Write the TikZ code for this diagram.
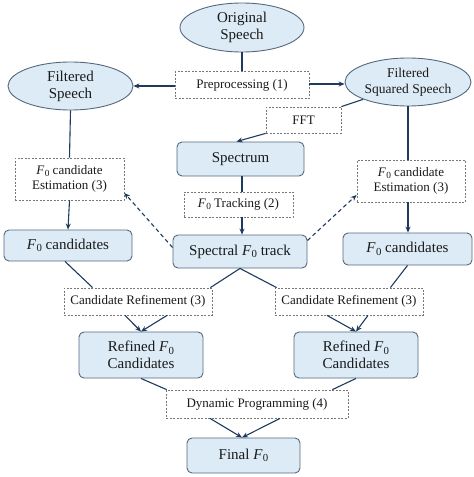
\documentclass[tikz,border=0pt]{standalone}
\usepackage{fontspec}
\setmainfont{Liberation Serif}
\usetikzlibrary{shapes.geometric,arrows.meta,calc}
\definecolor{fillc}{HTML}{DCEBF5}
\definecolor{bordc}{HTML}{55687D}
\definecolor{linec}{HTML}{1F3A5F}
\definecolor{dashc}{HTML}{777777}
\definecolor{textc}{HTML}{1A1A1A}
\newcommand\Fzero{\textit{F}\kern0.3pt\raisebox{-0.35ex}{\scalebox{0.72}{0}}}
\tikzset{
  ell/.style={ellipse, draw=bordc, fill=fillc, line width=0.9pt, inner sep=0pt,
    align=center, text=textc, font=\fontsize{15}{17}\selectfont},
  rbox/.style={rectangle, rounded corners=5pt, draw=bordc, fill=fillc, line width=0.9pt,
    inner sep=0pt, align=center, text=textc, font=\fontsize{15}{17}\selectfont},
  dbox/.style={rectangle, draw=dashc, fill=white, line width=0.8pt, dash pattern=on 2pt off 1.5pt,
    inner sep=0pt, align=center, text=textc, font=\fontsize{13}{15}\selectfont},
  conn/.style={draw=linec, line width=1.1pt},
  arr/.style={conn, -{Stealth[length=6pt,width=5pt]}},
  darr/.style={arr, dash pattern=on 4pt off 3pt},
}
\begin{document}
\begin{tikzpicture}[x=1pt,y=-1pt]
\useasboundingbox (0,0) rectangle (474,477);
% ellipses
\node[ell, minimum width=124pt, minimum height=49pt] (orig) at (242,27.5) {Original\\Speech};
\node[ell, minimum width=125pt, minimum height=48pt] (fs) at (70.5,86) {Filtered\\Speech};
\node[ell, minimum width=126pt, minimum height=48pt, font=\fontsize{13.5}{16}\selectfont] (fss) at (408,82) {Filtered\\Squared Speech};
% rounded boxes
\node[rbox, minimum width=127pt, minimum height=34pt] (spec) at (240.5,159) {Spectrum};
\node[rbox, minimum width=134pt, minimum height=33pt] (sp) at (240,251.5) {Spectral \Fzero{} track};
\node[rbox, minimum width=128pt, minimum height=31pt] (candL) at (68,245.5) {\Fzero{} candidates};
\node[rbox, minimum width=129pt, minimum height=32pt] (candR) at (407.5,249) {\Fzero{} candidates};
\node[rbox, minimum width=124pt, minimum height=46pt] (refL) at (141,355) {Refined \Fzero\\Candidates};
\node[rbox, minimum width=124pt, minimum height=46pt] (refR) at (356,355) {Refined \Fzero\\Candidates};
\node[rbox, minimum width=113pt, minimum height=35pt] (final) at (243.5,455.5) {Final \Fzero};
% dashed boxes
\node[dbox, minimum width=134pt, minimum height=27pt] (pre) at (242,85) {Preprocessing (1)};
\node[dbox, minimum width=75pt, minimum height=26pt] (fft) at (303.5,120) {FFT};
\node[dbox, minimum width=109pt, minimum height=42pt] (estL) at (69.5,179) {\Fzero{} candidate\\Estimation (3)};
\node[dbox, minimum width=108pt, minimum height=42pt] (estR) at (411,181) {\Fzero{} candidate\\Estimation (3)};
\node[dbox, minimum width=109pt, minimum height=25pt] (trk) at (238.5,204.5) {\Fzero{} Tracking (2)};
\node[dbox, minimum width=148pt, minimum height=27pt] (crL) at (138,301.5) {Candidate Refinement (3)};
\node[dbox, minimum width=148pt, minimum height=27pt] (crR) at (349,301.5) {Candidate Refinement (3)};
\node[dbox, minimum width=182pt, minimum height=28pt] (dp) at (257,404) {Dynamic Programming (4)};
% connectors
\draw[conn] (orig.south) -- (pre.north);
\draw[arr] ([yshift=-1pt]pre.west) -- ([yshift=-1pt]pre.west -| fs.east);
\draw[arr] ([yshift=1pt]pre.east) -- ([yshift=1pt]pre.east -| fss.west);
\draw[conn] (fss.south west) -- (fft.north east);
\draw[arr] (fft.south west) -- ([xshift=-4pt]spec.north);
\draw[conn] (fs.south) -- (estL.north);
\draw[arr] (estL.south) -- (candL.north);
\draw[conn] (fss.south) -- (fss.south |- estR.north);
\draw[arr] (fss.south |- estR.south) -- (fss.south |- candR.north);
\draw[conn] ([xshift=1.5pt]spec.south) -- ([xshift=1.5pt]spec.south |- trk.north);
\draw[arr] ([xshift=1.5pt]spec.south |- trk.south) -- ([xshift=1.5pt]spec.south |- sp.north);
\draw[darr] ([yshift=4pt]sp.west) -- ([yshift=-14pt]estL.east);
\draw[darr] ([yshift=11pt]sp.east) -- ([yshift=-14pt]estR.west);
\draw[conn] ([xshift=-3pt]candL.south) -- ([xshift=29pt]crL.north west);
\draw[conn] (sp.south) -- ([xshift=-2pt]crL.north east);
\draw[conn] (sp.south) -- ([xshift=2pt]crR.north west);
\draw[conn] (candR.south) -- ([xshift=-33pt]crR.north east);
\draw[arr] ($(crL.south)+(-13,0)$) -- (refL.north);
\draw[arr] ($(crL.south)+(29,0)$) -- (refL.north);
\draw[arr] ($(crR.south)+(-22,0)$) -- (refR.north);
\draw[arr] ($(crR.south)+(19,0)$) -- (refR.north);
\draw[conn] (refL.south) -- ([xshift=1pt]dp.north west);
\draw[conn] (refR.south) -- ([xshift=-16pt]dp.north east);
\draw[arr] ($(dp.south)+(-47,0)$) -- ([xshift=-1.5pt]final.north);
\draw[arr] ($(dp.south)+(23,0)$) -- ([xshift=-1.5pt]final.north);
\end{tikzpicture}
\end{document}
